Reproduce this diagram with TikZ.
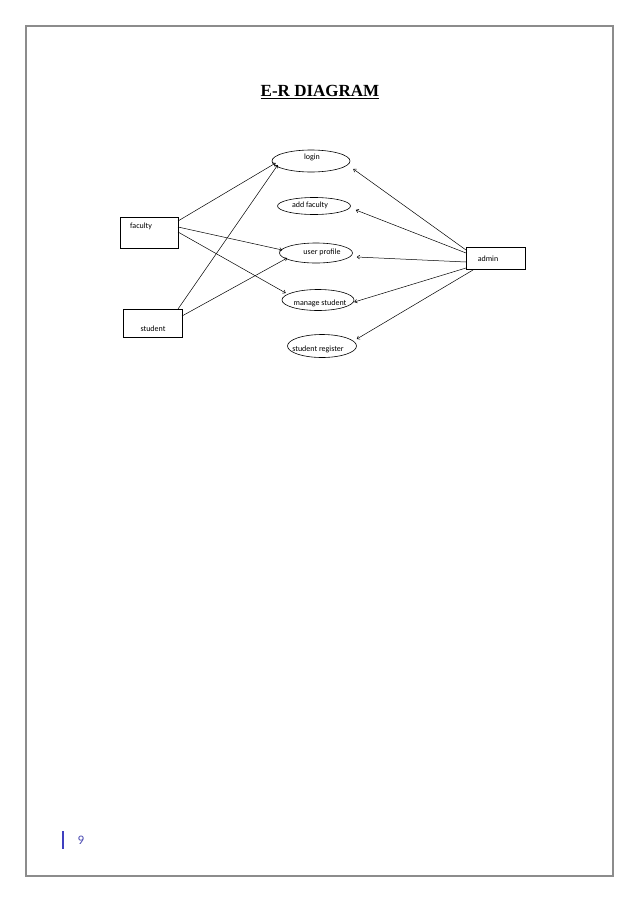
\documentclass[tikz,border=0pt]{standalone}
\usepackage{fontspec}
\setmainfont{Carlito}
\newfontfamily\titlefont{Liberation Serif}
\usetikzlibrary{shapes.geometric,arrows.meta}
\begin{document}
\begin{tikzpicture}[x=1pt,y=-1pt,
  ent/.style={draw,line width=0.6pt,inner sep=0pt},
  uc/.style={draw,ellipse,line width=0.6pt,inner sep=0pt},
  lbl/.style={font=\fontsize{8}{9}\selectfont,inner sep=0pt},
  conn/.style={line width=0.5pt,-{To[length=3pt,width=4pt]}}]
\useasboundingbox (0,0) rectangle (638,902);
\draw[line width=2.5pt,color=gray!90] (26,26) rectangle (613,876);
\node[font=\titlefont\bfseries\fontsize{17}{20}\selectfont] (title) at (320,92) {\underline{E-R DIAGRAM}};
\node[font=\fontsize{13}{15}\selectfont,text=blue!40!gray] (pg) at (81,840) {9};
\draw[line width=1.3pt,color=blue!50!gray] (63,831) -- (63,849);
% entities
\node[ent,minimum width=58pt,minimum height=31pt] (fac) at (149,232.5) {};
\node[lbl,anchor=north west] (facl) at (130,223) {faculty};
\node[ent,minimum width=59pt,minimum height=28pt] (stu) at (152.5,323) {};
\node[lbl] (stul) at (153,329) {student};
\node[ent,minimum width=59pt,minimum height=22pt] (adm) at (495.5,258) {};
\node[lbl] (adml) at (488,259) {admin};
% use cases
\node[uc,minimum width=78pt,minimum height=22pt] (login) at (311,161) {};
\node[lbl] at (312,157) {login};
\node[uc,minimum width=73pt,minimum height=17pt] (addf) at (314,206) {};
\node[lbl] at (310,205) {add faculty};
\node[uc,minimum width=73pt,minimum height=20pt] (prof) at (316,253) {};
\node[lbl] at (322,252) {user profile};
\node[uc,minimum width=72pt,minimum height=21pt] (mng) at (318,300) {};
\node[lbl] at (320,303) {manage student};
\node[uc,minimum width=69pt,minimum height=23pt] (reg) at (322,346) {};
\node[lbl] at (318,349) {student register};
% connectors
\coordinate (f1) at (178,221);
\coordinate (f2) at (178,227);
\coordinate (f3) at (178,232);
\coordinate (s1) at (178,309);
\coordinate (s2) at (182,316);
\coordinate (a1) at (466,250);
\coordinate (a2) at (466,253);
\coordinate (a3) at (466,262);
\coordinate (a4) at (466,268);
\coordinate (a5) at (473,270);
\draw[conn] (f1) -- ([shift={(4,2)}]login.west);
\draw[conn] (f2) -- ([shift={(3,-3)}]prof.west);
\draw[conn] (f3) -- ([shift={(4,-7)}]mng.west);
\draw[conn] (s1) -- ([shift={(6,4)}]login.west);
\draw[conn] (s2) -- ([shift={(8,5)}]prof.west);
\draw[conn] (a1) -- ([shift={(3,8)}]login.east);
\draw[conn] (a2) -- ([shift={(5,4)}]addf.east);
\draw[conn] (a3) -- ([shift={(4,4)}]prof.east);
\draw[conn] (a4) -- ([shift={(0,2)}]mng.east);
\draw[conn] (a5) -- ([shift={(0,-7)}]reg.east);
\end{tikzpicture}
\end{document}
